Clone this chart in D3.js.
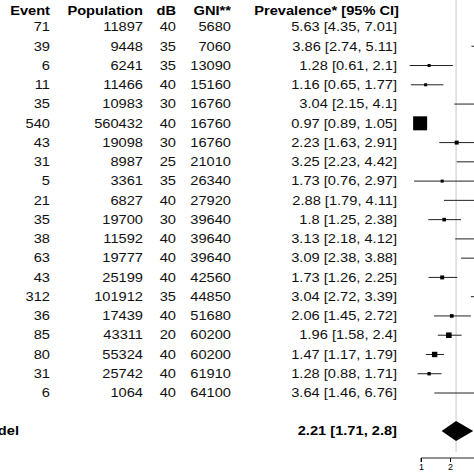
<!DOCTYPE html><html><head><meta charset="utf-8"><script src="https://cdn.jsdelivr.net/npm/d3@7"></script>
<style>body{margin:0;background:#fff}svg{display:block}text{font-family:"Liberation Sans",Arial,sans-serif}</style></head><body>
<script>
const events=[71,39,6,11,35,540,43,31,5,21,35,38,63,43,312,36,85,80,31,6];
const population=[11897,9448,6241,11466,10983,560432,19098,8987,3361,6827,19700,11592,19777,25199,101912,17439,43311,55324,25742,1064];
const dB=[40,35,35,40,30,40,30,25,35,40,30,40,40,40,35,40,20,40,40,40];
const gni=[5680,7060,13090,15160,16760,16760,16760,21010,26340,27920,39640,39640,39640,42560,44850,51680,60200,60200,61910,64100];
const est=[5.63,3.86,1.28,1.16,3.04,0.97,2.23,3.25,1.73,2.88,1.8,3.13,3.09,1.73,3.04,2.06,1.96,1.47,1.28,3.64];
const lo=[4.35,2.74,0.61,0.65,2.15,0.89,1.63,2.23,0.76,1.79,1.25,2.18,2.38,1.26,2.72,1.45,1.58,1.17,0.88,1.46];
const hi=[7.01,5.11,2.1,1.77,4.1,1.05,2.91,4.42,2.97,4.11,2.38,4.12,3.88,2.25,3.39,2.72,2.4,1.79,1.71,6.76];
const prevLabels=["5.63 [4.35, 7.01]","3.86 [2.74, 5.11]","1.28 [0.61, 2.1]","1.16 [0.65, 1.77]","3.04 [2.15, 4.1]","0.97 [0.89, 1.05]","2.23 [1.63, 2.91]","3.25 [2.23, 4.42]","1.73 [0.76, 2.97]","2.88 [1.79, 4.11]","1.8 [1.25, 2.38]","3.13 [2.18, 4.12]","3.09 [2.38, 3.88]","1.73 [1.26, 2.25]","3.04 [2.72, 3.39]","2.06 [1.45, 2.72]","1.96 [1.58, 2.4]","1.47 [1.17, 1.79]","1.28 [0.88, 1.71]","3.64 [1.46, 6.76]"];
const model={est:2.21,lo:1.71,hi:2.8,label:"2.21 [1.71, 2.8]"};
const ticks=[1,2];

const W=474,H=474,SX=1.2;
const svg=d3.select("body").append("svg").attr("width",W).attr("height",H);
const x=d3.scaleLinear().domain([1,2]).range([421,450]);
const y=d3.scaleLinear().domain([1,20]).range([27,393]);
const fs=12.2;
svg.append("line").attr("x1",x(model.est)).attr("x2",x(model.est)).attr("y1",0).attr("y2",452).attr("stroke","#c8c8c8").attr("stroke-width",1);
const tg=svg.append("g").attr("transform",`scale(${SX},1)`);
const hdr=[["Event",50],["Population",143],["dB",176],["GNI**",231],["Prevalence* [95% CI]",399]];
tg.selectAll("text.h").data(hdr).enter().append("text").attr("x",d=>d[1]/SX).attr("y",11).attr("dy","0.35em")
 .attr("text-anchor","end").attr("font-weight","bold").attr("font-size",fs).text(d=>d[0]);
const cols=[[events,50],[population,143],[dB,176],[gni,231],[prevLabels,397]];
cols.forEach(([arr,cx])=>{
 tg.selectAll(null).data(arr).enter().append("text").attr("x",cx/SX).attr("y",(d,i)=>y(i+1)).attr("dy","0.35em")
  .attr("text-anchor","end").attr("font-size",fs).attr("fill","#111").text(d=>d);
});
const my=431;
tg.append("text").attr("x",19/SX).attr("y",my).attr("dy","0.35em").attr("text-anchor","end").attr("font-weight","bold").attr("font-size",fs).text("RE Model");
tg.append("text").attr("x",397/SX).attr("y",my).attr("dy","0.35em").attr("text-anchor","end").attr("font-weight","bold").attr("font-size",fs).text(model.label);
const g=svg.append("g");
g.selectAll("line").data(est).enter().append("line").attr("x1",(d,i)=>x(lo[i])).attr("x2",(d,i)=>x(hi[i]))
 .attr("y1",(d,i)=>y(i+1)).attr("y2",(d,i)=>y(i+1)).attr("stroke","#222").attr("stroke-width",1);
g.selectAll("rect").data(est).enter().append("rect").each(function(d,i){
 const s=Math.max(3,14*Math.sqrt(events[i]/540));
 d3.select(this).attr("x",x(d)-s/2).attr("y",y(i+1)-s/2).attr("width",s).attr("height",s).attr("fill","#000");
});
svg.append("path").attr("d",`M${x(model.lo)},${my}L${x(model.est)},${my-10}L${x(model.hi)},${my}L${x(model.est)},${my+10}Z`).attr("fill","#000");
const ax=svg.append("g").attr("transform","translate(0,458)").call(d3.axisBottom(x).tickValues(ticks).tickSize(4).tickFormat(d3.format("d")));
ax.select(".domain").attr("d",`M${x(1)},4V0H${W}`).attr("stroke","#222");
ax.selectAll("text").attr("font-size",9).attr("font-family","Liberation Sans, Arial").attr("y",6);
</script></body></html>
